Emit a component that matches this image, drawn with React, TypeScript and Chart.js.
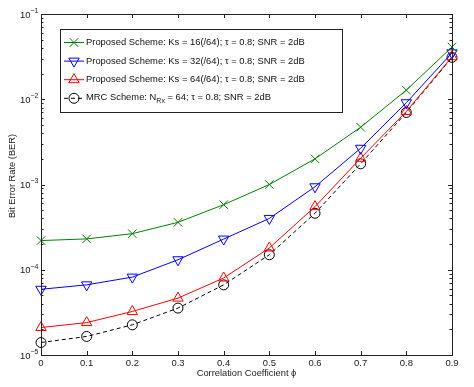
import React, { useEffect, useRef } from "react";
import { Chart, registerables } from "chart.js";

Chart.register(...registerables);

const xValues = [0, 0.1, 0.2, 0.3, 0.4, 0.5, 0.6, 0.7, 0.8, 0.9];
const ks16 = [2.2e-4, 2.3e-4, 2.65e-4, 3.6e-4, 5.8e-4, 1.0e-3, 2.0e-3, 4.7e-3, 1.28e-2, 4.1e-2];
const ks32 = [5.9e-5, 6.65e-5, 8.2e-5, 1.31e-4, 2.29e-4, 4.0e-4, 9.4e-4, 2.66e-3, 9.1e-3, 3.5e-2];
const ks64 = [2.1e-5, 2.4e-5, 3.24e-5, 4.65e-5, 8.0e-5, 1.8e-4, 5.5e-4, 2.03e-3, 7.2e-3, 3.15e-2];
const mrc = [1.4e-5, 1.65e-5, 2.26e-5, 3.55e-5, 6.65e-5, 1.5e-4, 4.6e-4, 1.75e-3, 7.0e-3, 3.1e-2];
const yDecades = [-5, -4, -3, -2, -1];
const xTicks = [0, 0.1, 0.2, 0.3, 0.4, 0.5, 0.6, 0.7, 0.8, 0.9];

const legendLabels = [
  "Proposed Scheme: Ks = 16(/64); \u03c4 = 0.8; SNR = 2dB",
  "Proposed Scheme: Ks = 32(/64); \u03c4 = 0.8; SNR = 2dB",
  "Proposed Scheme: Ks = 64(/64); \u03c4 = 0.8; SNR = 2dB",
];
const mrcLabelA = "MRC Scheme: N";
const mrcLabelSub = "Rx";
const mrcLabelB = " = 64; \u03c4 = 0.8; SNR = 2dB";

const FONT = '"Liberation Sans", Arial, Helvetica, sans-serif';

const GREEN = "#008000";
const BLUE = "#0000ff";
const RED = "#ff0000";
const BLACK = "#000000";

function drawMarker(ctx: CanvasRenderingContext2D, kind: string, x: number, y: number, r: number) {
  ctx.beginPath();
  if (kind === "x") {
    const d = Math.cos(Math.PI / 4) * r;
    ctx.moveTo(x - d, y - d);
    ctx.lineTo(x + d, y + d);
    ctx.moveTo(x - d, y + d);
    ctx.lineTo(x + d, y - d);
  } else if (kind === "tri" || kind === "itri") {
    const s = kind === "tri" ? 1 : -1;
    let rad = kind === "tri" ? 0 : Math.PI;
    for (let i = 0; i < 3; i++) {
      const px = x + Math.sin(rad) * r;
      const py = y - Math.cos(rad) * r;
      if (i === 0) ctx.moveTo(px, py);
      else ctx.lineTo(px, py);
      rad += (2 * Math.PI) / 3;
    }
    void s;
    ctx.closePath();
  } else {
    ctx.arc(x, y, r, 0, Math.PI * 2);
  }
  ctx.stroke();
}

const decorPlugin = {
  id: "matlabDecor",
  afterDraw(chart: any) {
    const ctx: CanvasRenderingContext2D = chart.ctx;
    const area = chart.chartArea;
    const xs = chart.scales.x;
    const ys = chart.scales.y;
    ctx.save();
    // box
    ctx.strokeStyle = "#222";
    ctx.lineWidth = 1;
    ctx.strokeRect(Math.round(area.left) + 0.5, Math.round(area.top) + 0.5,
      Math.round(area.right - area.left), Math.round(area.bottom - area.top));
    // x ticks
    ctx.beginPath();
    for (const v of xTicks) {
      const px = Math.round(xs.getPixelForValue(v)) + 0.5;
      ctx.moveTo(px, area.bottom);
      ctx.lineTo(px, area.bottom - 4);
      ctx.moveTo(px, area.top);
      ctx.lineTo(px, area.top + 4);
    }
    // y ticks
    for (let i = 0; i < yDecades.length; i++) {
      const e = yDecades[i];
      for (let m = 1; m <= 9; m++) {
        if (i === yDecades.length - 1 && m > 1) break;
        const py = Math.round(ys.getPixelForValue(m * Math.pow(10, e))) + 0.5;
        const len = m === 1 ? 4 : 2.5;
        ctx.moveTo(area.left, py);
        ctx.lineTo(area.left + len, py);
        ctx.moveTo(area.right, py);
        ctx.lineTo(area.right - len, py);
      }
    }
    ctx.stroke();

    // y tick labels 10^k
    ctx.fillStyle = "#222";
    for (const e of yDecades) {
      const py = ys.getPixelForValue(Math.pow(10, e));
      ctx.font = `9.5px ${FONT}`;
      ctx.textAlign = "right";
      ctx.textBaseline = "middle";
      ctx.fillText("10", 30.5, py + 1);
      ctx.font = `7px ${FONT}`;
      ctx.textAlign = "left";
      ctx.fillText("\u2212" + String(-e), 30.5, py - 3);
    }

    // axis titles
    ctx.font = `9.3px ${FONT}`;
    ctx.textAlign = "center";
    ctx.textBaseline = "middle";
    ctx.fillText("Correlation Coefficient \u03d5", (area.left + area.right) / 2, 373);
    ctx.save();
    ctx.translate(12.5, 176);
    ctx.rotate(-Math.PI / 2);
    ctx.fillText("Bit Error Rate (BER)", 0, 0);
    ctx.restore();

    // legend
    const lx = 60.5, ly = 29.5, lw = 282, lh = 83;
    ctx.fillStyle = "#fff";
    ctx.fillRect(lx, ly, lw, lh);
    ctx.strokeStyle = "#222";
    ctx.lineWidth = 1;
    ctx.strokeRect(lx, ly, lw, lh);
    const rows = [
      { color: GREEN, kind: "x", r: 6, dash: [] as number[] },
      { color: BLUE, kind: "itri", r: 6, dash: [] as number[] },
      { color: RED, kind: "tri", r: 6, dash: [] as number[] },
      { color: BLACK, kind: "circle", r: 5, dash: [4, 3] },
    ];
    rows.forEach((row, i) => {
      const y = 42.5 + i * 18.6;
      ctx.strokeStyle = row.color;
      ctx.lineWidth = 1;
      ctx.setLineDash(row.dash);
      ctx.beginPath();
      ctx.moveTo(64, y);
      ctx.lineTo(84, y);
      ctx.stroke();
      ctx.setLineDash([]);
      drawMarker(ctx, row.kind, 74, y, row.r);
      ctx.fillStyle = "#111";
      ctx.textAlign = "left";
      ctx.textBaseline = "middle";
      ctx.font = `9.4px ${FONT}`;
      if (i < 3) {
        ctx.fillText(legendLabels[i], 86, y);
      } else {
        ctx.fillText(mrcLabelA, 86, y - 1);
        let w = ctx.measureText(mrcLabelA).width;
        ctx.font = `7px ${FONT}`;
        ctx.fillText(mrcLabelSub, 86 + w, y + 3);
        const w2 = ctx.measureText(mrcLabelSub).width;
        ctx.font = `9.4px ${FONT}`;
        ctx.fillText(mrcLabelB, 86 + w + w2, y - 1);
      }
    });
    ctx.restore();
  },
};

export default function App() {
  const ref = useRef<HTMLCanvasElement | null>(null);
  useEffect(() => {
    if (!ref.current) return;
    const mk = (data: number[], color: string, style: any, rot: number, r: number, dash: number[]) => ({
      data: xValues.map((x, i) => ({ x, y: data[i] })),
      borderColor: color,
      backgroundColor: "transparent",
      pointBorderColor: color,
      pointBackgroundColor: "rgba(0,0,0,0)",
      pointStyle: style,
      pointRotation: rot,
      pointRadius: r,
      pointBorderWidth: 1,
      borderWidth: 1,
      borderDash: dash,
      tension: 0,
      fill: false,
      clip: false as any,
    });
    const chart = new Chart(ref.current, {
      type: "line",
      data: {
        datasets: [
          mk(ks16, GREEN, "crossRot", 0, 6, []),
          mk(ks32, BLUE, "triangle", 180, 6, []),
          mk(ks64, RED, "triangle", 0, 6, []),
          mk(mrc, BLACK, "circle", 0, 5, [4, 3]),
        ],
      },
      options: {
        animation: false,
        responsive: false,
        devicePixelRatio: 1,
        layout: { padding: { left: 0, right: 22, top: 14, bottom: 0 } },
        plugins: { legend: { display: false }, tooltip: { enabled: false } },
        scales: {
          x: {
            type: "linear",
            min: 0,
            max: 0.9,
            afterBuildTicks: (s: any) => {
              s.ticks = xTicks.map((v) => ({ value: v }));
            },
            afterFit: (s: any) => {
              s.height = 32;
            },
            grid: { display: false, drawTicks: false },
            border: { display: false },
            ticks: {
              color: "#222",
              font: { family: FONT, size: 9.5 },
              padding: 3,
              maxRotation: 0,
              autoSkip: false,
              callback: (v: any) => (Number(v) === 0 ? "0" : Number(v).toFixed(1)),
            },
          },
          y: {
            type: "logarithmic",
            min: 1e-5,
            max: 1e-1,
            afterFit: (s: any) => {
              s.width = 41;
            },
            grid: { display: false, drawTicks: false },
            border: { display: false },
            ticks: { display: false },
          },
        },
      },
      plugins: [decorPlugin],
    });
    return () => chart.destroy();
  }, []);
  return (
    <div style={{ position: "absolute", left: 0, top: 0, width: 474, height: 387, background: "#fff" }}>
      <canvas ref={ref} width={474} height={387} style={{ display: "block" }} />
    </div>
  );
}
